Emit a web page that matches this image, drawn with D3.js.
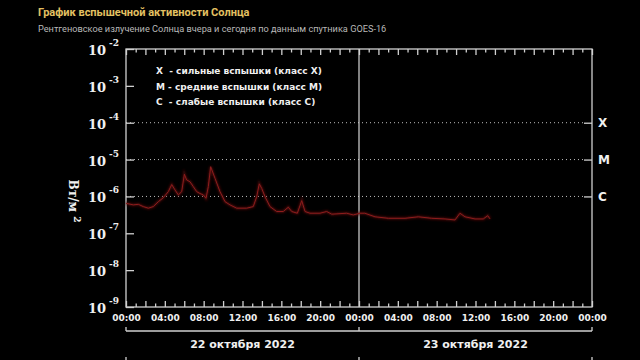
<!DOCTYPE html>
<html><head><meta charset="utf-8">
<script src="https://cdn.jsdelivr.net/npm/d3@7"></script>
<style>
html,body{margin:0;padding:0;background:#000;}
svg{display:block;}
</style></head>
<body>
<svg id="chart" width="640" height="360"></svg>
<script>
// ---- data ----
const startDate = "2022-10-22T00:00:00";
const endDate = "2022-10-24T00:00:00";
// hours since 22 Oct 00:00
const hours = [0,0.75,1.27,1.78,2.3,2.81,3.33,3.84,4.36,4.71,5.05,5.39,5.74,6.01,6.25,6.59,6.93,7.28,7.62,7.96,8.24,8.48,8.72,9.17,9.68,10.2,10.71,11.4,12.43,13.11,13.46,13.73,13.98,14.32,14.83,15.52,16.2,16.72,17.07,17.65,18.1,18.44,18.95,19.98,20.67,21.19,22.73,23.41,24.1,24.6,25.65,27.02,28.74,30.11,31.49,32.86,33.89,34.4,34.92,35.95,36.8,37.26,37.5];
// X-ray flux, W/m^2
const flux = [6.5e-7,5.9e-7,6.1e-7,5.3e-7,4.8e-7,5.3e-7,7.2e-7,9.2e-7,1.35e-6,2.1e-6,1.5e-6,1.1e-6,1.35e-6,4.0e-6,2.8e-6,2.5e-6,1.85e-6,1.35e-6,1.2e-6,1.1e-6,8.9e-7,1.85e-6,6.4e-6,3.1e-6,1.35e-6,7.2e-7,5.9e-7,4.8e-7,4.8e-7,5.3e-7,9.8e-7,2.2e-6,1.65e-6,9.8e-7,5.3e-7,3.9e-7,3.9e-7,5.1e-7,3.9e-7,3.5e-7,7.7e-7,3.9e-7,3.5e-7,3.5e-7,3.9e-7,3.3e-7,3.5e-7,3.15e-7,3.5e-7,3.5e-7,2.8e-7,2.55e-7,2.55e-7,2.8e-7,2.55e-7,2.45e-7,2.3e-7,3.5e-7,2.8e-7,2.45e-7,2.45e-7,3.0e-7,2.45e-7];
const decades = [1e-2,1e-3,1e-4,1e-5,1e-6,1e-7,1e-8,1e-9];
const exponents = ["-2","-3","-4","-5","-6","-7","-8","-9"];
const classLevels = [1e-4,1e-5,1e-6];
const classLabels = ["X","M","C"];
const legendLines = ["X  - сильные вспышки (класс X)","M - средние вспышки (класс M)","C  - слабые вспышки (класс C)"];
const dayLabels = ["22 октября 2022","23 октября 2022"];
const title = "График вспышечной активности Солнца";
const subtitle = "Рентгеновское излучение Солнца вчера и сегодня по данным спутника GOES-16";

// ---- drawing ----
const svg = d3.select("#chart");
const L = 126, R = 592, T = 49, B = 307;
const t0 = new Date(startDate), t1 = new Date(endDate);
const x = d3.scaleTime().domain([t0, t1]).range([L, R]);
const y = d3.scaleLog().domain([1e-9, 1e-2]).range([B, T]);
const toDate = h => new Date(t0.getTime() + h * 3600000);

svg.append("rect").attr("width", 640).attr("height", 360).attr("fill", "#000");

svg.append("text").attr("x", 38).attr("y", 16).text(title)
  .attr("fill", "#e3c062").attr("font-family", "Roboto, 'Open Sans', sans-serif")
  .attr("font-weight", "bold").attr("font-size", 11);
svg.append("text").attr("x", 38).attr("y", 32).text(subtitle)
  .attr("fill", "#b8b8b8").attr("font-family", "Roboto, 'Open Sans', sans-serif")
  .attr("font-size", 9.2);

const axisColor = "#d0d0d0";
const sans = "'DejaVu Sans', Verdana, sans-serif";
const serif = "'DejaVu Serif', serif";

// dotted class gridlines
svg.append("g").selectAll("line").data(classLevels).join("line")
  .attr("x1", L).attr("x2", R - 9)
  .attr("y1", d => y(d)).attr("y2", d => y(d))
  .attr("stroke", "#bdbdbd").attr("stroke-width", 1).attr("stroke-dasharray", "1,3");

// midnight line
const mid = new Date("2022-10-23T00:00:00");
svg.append("line").attr("x1", x(mid)).attr("x2", x(mid)).attr("y1", T).attr("y2", B)
  .attr("stroke", "#d8d8d8").attr("stroke-width", 1.2);

function styleAxis(g) {
  g.selectAll("path,line").attr("stroke", axisColor).attr("stroke-width", 1.3);
  g.select(".domain").remove();
}

// frame
svg.append("rect").attr("x", L).attr("y", T).attr("width", R - L).attr("height", B - T)
  .attr("fill", "none").attr("stroke", axisColor).attr("stroke-width", 1.3);

// hourly ticks bottom / top
const hourTicks = x.ticks(d3.timeHour.every(1));
const gb = svg.append("g").attr("transform", `translate(0,${B})`)
  .call(d3.axisBottom(x).tickValues(hourTicks).tickFormat("").tickSizeOuter(0)
    .tickSizeInner(-4));
gb.selectAll(".tick line").attr("y2", d => d.getHours() % 2 === 0 ? -6 : -3.5);
styleAxis(gb);
const gt = svg.append("g").attr("transform", `translate(0,${T})`)
  .call(d3.axisTop(x).tickValues(hourTicks).tickFormat("").tickSizeOuter(0)
    .tickSizeInner(-4));
gt.selectAll(".tick line").attr("y2", d => d.getHours() % 2 === 0 ? 6 : 3.5);
styleAxis(gt);

// bottom labels
const gl = svg.append("g").attr("transform", `translate(0,${B})`)
  .call(d3.axisBottom(x).ticks(d3.timeHour.every(4)).tickFormat(d3.timeFormat("%H:%M"))
    .tickSize(0).tickPadding(8));
gl.select(".domain").remove();
gl.selectAll("text").attr("fill", "#f0f0f0").attr("font-family", sans)
  .attr("font-weight", "bold").attr("font-size", 9);

// left axis ticks
const gyl = svg.append("g").attr("transform", `translate(${L},0)`)
  .call(d3.axisLeft(y).tickValues(decades).tickFormat("").tickSizeOuter(0).tickSizeInner(-8));
styleAxis(gyl);
// left labels 10^n
svg.append("g").selectAll("text").data(decades).join("text")
  .attr("x", 106).attr("y", d => y(d) + 6)
  .attr("text-anchor", "end").attr("fill", "#f0f0f0")
  .attr("font-family", serif).attr("font-weight", "bold").attr("font-size", 13)
  .text("10");
svg.append("g").selectAll("text").data(decades).join("text")
  .attr("x", 109).attr("y", (d) => y(d) - 3)
  .attr("fill", "#f0f0f0").attr("font-family", serif).attr("font-weight", "bold")
  .attr("font-size", 9).text((d, i) => exponents[i]);

// right axis class labels
const gyr = svg.append("g").attr("transform", `translate(${R},0)`)
  .call(d3.axisRight(y).tickValues(classLevels).tickFormat((d, i) => classLabels[i])
    .tickSizeOuter(0).tickSizeInner(-8).tickPadding(6));
styleAxis(gyr);
gyr.selectAll("text").attr("fill", "#f0f0f0").attr("font-family", sans)
  .attr("font-weight", "bold").attr("font-size", 12);

// y label
const yl = svg.append("text").attr("transform", "translate(69,201) rotate(90)")
  .attr("text-anchor", "middle").attr("fill", "#f0f0f0")
  .attr("font-family", serif).attr("font-weight", "bold").attr("font-size", 12);
yl.append("tspan").text("Вт/м ");
yl.append("tspan").attr("dy", -5).attr("font-size", 9).text("2");

// legend
svg.append("g").selectAll("text").data(legendLines).join("text")
  .attr("x", 156).attr("y", (d, i) => 74 + i * 15.5)
  .attr("fill", "#f0f0f0").attr("font-family", sans).attr("font-weight", "bold")
  .attr("font-size", 9).attr("xml:space", "preserve").style("white-space", "pre")
  .text(d => d);

// flux line
const line = d3.line().x((d, i) => x(toDate(hours[i]))).y(d => y(d));
const defs = svg.append("defs");
defs.append("filter").attr("id", "glow").append("feGaussianBlur").attr("stdDeviation", 1.2);
svg.append("path").datum(flux).attr("d", line).attr("fill", "none")
  .attr("stroke", "#5a0c0c").attr("stroke-width", 3).attr("opacity", 0.7)
  .attr("filter", "url(#glow)");
svg.append("path").datum(flux).attr("d", line).attr("fill", "none")
  .attr("stroke", "#8e1c1c").attr("stroke-width", 1).attr("stroke-linejoin", "round");

// date brackets
const days = [t0, mid, t1];
const br = svg.append("g").attr("stroke", axisColor).attr("stroke-width", 1.3);
br.append("line").attr("x1", L).attr("x2", R).attr("y1", 331).attr("y2", 331);
br.selectAll("line.t").data(days).join("line").attr("class", "t")
  .attr("x1", d => x(d)).attr("x2", d => x(d)).attr("y1", 327).attr("y2", 331);
br.selectAll("line.b").data(days).join("line").attr("class", "b")
  .attr("x1", d => x(d)).attr("x2", d => x(d)).attr("y1", 357).attr("y2", 362);
br.append("line").attr("x1", L).attr("x2", R).attr("y1", 361).attr("y2", 361);
svg.append("g").selectAll("text").data(dayLabels).join("text")
  .attr("x", (d, i) => (x(days[i]) + x(days[i + 1])) / 2).attr("y", 348)
  .attr("text-anchor", "middle").attr("fill", "#f0f0f0").attr("font-family", sans)
  .attr("font-weight", "bold").attr("font-size", 11).text(d => d);
</script>
</body></html>
